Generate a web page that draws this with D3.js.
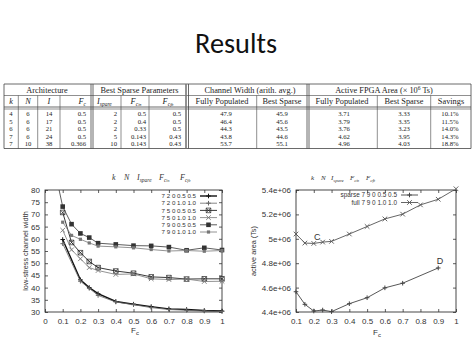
<!DOCTYPE html>
<html><head><meta charset="utf-8">
<script src="https://cdn.jsdelivr.net/npm/d3@7"></script>
<style>html,body{margin:0;padding:0;background:#fff}svg{display:block}</style>
</head><body>
<script>
// ---------- DATA ----------
const title = "Results";
// table
const archK = [4,5,6,7,7];
const archN = [6,6,6,6,10];
const archI = [14,17,21,24,38];
const archFc = ["0.5","0.5","0.5","0.5","0.366"];
const spareI = [2,2,2,5,10];
const spareFcin = ["0.5","0.4","0.33","0.143","0.143"];
const spareFcfb = ["0.5","0.5","0.5","0.43","0.43"];
const chanFull = ["47.9","46.4","44.3","43.8","53.7"];
const chanSparse = ["45.9","45.6","43.5","44.6","55.1"];
const areaFull = ["3.71","3.79","3.76","4.62","4.96"];
const areaSparse = ["3.33","3.35","3.23","3.95","4.03"];
const savings = ["10.1%","11.5%","14.0%","14.3%","18.8%"];

// left chart: low-stress channel width vs Fc
const leftNames = ["7 2 0 0.5 0.5","7 2 0 1.0 1.0","7 5 0 0.5 0.5","7 5 0 1.0 1.0","7 9 0 0.5 0.5","7 9 0 1.0 1.0"];
const fcA = [0.1,0.2,0.25,0.3,0.4,0.5,0.6,0.7,0.8,0.9,1.0];
const fcB = [0.1,0.15,0.2,0.25,0.3,0.4,0.5,0.6,0.7,0.8,0.9,1.0];
const fcC = [0.05,0.1,0.15,0.2,0.25,0.3,0.4,0.5,0.6,0.7,0.8,0.9,1.0];
const w7200505 = [59.7,43.2,40.0,37.5,34.3,33.2,32.2,31.3,31.0,30.6,30.4];
const w7201010 = [58.0,42.6,39.7,36.8,34.1,33.0,31.8,31.0,30.7,30.4,30.2];
const w7500505 = [70.8,58.5,54.3,50.7,48.2,46.8,45.9,44.4,44.1,43.5,43.6,43.6];
const w7501010 = [63.5,55.5,51.8,48.2,47.0,45.4,45.6,43.6,43.3,43.5,42.5,42.6];
const w7900505 = [90.0,73.2,66.0,62.2,60.5,58.2,57.7,57.2,57.1,56.6,55.3,56.3,55.4];
const w7901010 = [66.8,61.4,59.8,58.3,57.0,56.7,56.3,55.6,55.0,55.2,54.9,55.2];
const leftXTicks = [0,0.1,0.2,0.3,0.4,0.5,0.6,0.7,0.8,0.9,1];
const leftYTicks = [30,35,40,45,50,55,60,65,70,75,80];

// right chart: active area vs Fc
const rightNames = ["sparse 7 9 0 0.5 0.5","full 7 9 0 1.0 1.0"];
const fcSparse = [0.1,0.15,0.2,0.25,0.3,0.4,0.5,0.6,0.7,0.9];
const areaSparseCurve = [4.566e6,4.463e6,4.408e6,4.416e6,4.403e6,4.468e6,4.517e6,4.598e6,4.636e6,4.761e6];
const fcFull = [0.1,0.15,0.2,0.25,0.3,0.4,0.5,0.6,0.7,0.8,0.9,1.0];
const areaFullCurve = [5.039e6,4.965e6,4.962e6,4.973e6,4.979e6,5.039e6,5.101e6,5.163e6,5.202e6,5.278e6,5.324e6,5.41e6];
const rightXTicks = [0.1,0.2,0.3,0.4,0.5,0.6,0.7,0.8,0.9,1];
const rightYTicks = [4.4e6,4.6e6,4.8e6,5.0e6,5.2e6,5.4e6];
const rightYTickLabels = ["4.4e+06","4.6e+06","4.8e+06","5e+06","5.2e+06","5.4e+06"];
const annotations = [{t:"C", x:0.22, y:4.99e6},{t:"D", x:0.91, y:4.79e6}];

// ---------- DRAW ----------
const W=474,H=355;
const svg = d3.select("body").append("svg").attr("width",W).attr("height",H);
svg.append("rect").attr("width",W).attr("height",H).attr("fill","#fff");

svg.append("text").text(title).attr("x",236).attr("y",53).attr("text-anchor","middle")
  .attr("font-family","Carlito, 'Open Sans', Lato, sans-serif").attr("font-size",28).attr("fill","#111")
  .attr("textLength",82).attr("lengthAdjust","spacingAndGlyphs");

// ---- table ----
const T = svg.append("g").attr("font-family","'Liberation Serif','DejaVu Serif',serif").attr("font-size",8.3).attr("fill","#222");
const lc="#444";
function hl(x1,x2,y,w){T.append("line").attr("x1",x1).attr("x2",x2).attr("y1",y).attr("y2",y).attr("stroke",lc).attr("stroke-width",w||0.8);}
function vl(x,y1,y2,w,c){T.append("line").attr("x1",x).attr("x2",x).attr("y1",y1).attr("y2",y2).attr("stroke",c||lc).attr("stroke-width",w||0.8);}
const tTop=84,tH1=95.5,tH2a=107,tH2b=109,tBot=148.5,tL=4,tR=471;
hl(tL,tR,tTop); hl(tL,tR,tH1,0.6); hl(tL,tR,tH2a); hl(tL,tR,tH2b,0.6); hl(tL,tR,tBot);
vl(tL,tTop,tBot); vl(tR,tTop,tBot);
[91,93,307,309].forEach(x=>vl(x,tTop,tBot));
vl(186,tTop,tBot,1.6,"#777"); vl(188.5,tTop,tBot,0.8);
[18.3,37.7,60,121,149,256.7,377.3,430.7].forEach(x=>vl(x,tH1,tBot,0.6));

function txt(s,x,y,anchor,italic,fs){return T.append("text").text(s).attr("x",x).attr("y",y).attr("text-anchor",anchor||"middle").attr("font-style",italic?"italic":null).attr("font-size",fs||null);}
function sub(g,main,subs,x,y,anchor){
  const t=T.append("text").attr("x",x).attr("y",y).attr("text-anchor",anchor||"middle").attr("font-style","italic");
  t.append("tspan").text(main);
  t.append("tspan").text(subs).attr("font-size",5.5).attr("dy",1.5);
  return t;
}
txt("Architecture",47,92.5); txt("Best Sparse Parameters",139.5,92.5);
txt("Channel Width (arith. avg.)",250,92.5);
const at = T.append("text").attr("x",384).attr("y",92.5).attr("text-anchor","middle");
at.append("tspan").text("Active FPGA Area (× 10");
at.append("tspan").text("6").attr("font-size",5.5).attr("dy",-3);
at.append("tspan").text(" Ts)").attr("dy",3);
txt("k",11,104,"middle",true); txt("N",28,104,"middle",true); txt("I",49,104,"middle",true);
sub(T,"F","c",86,104,"end");
sub(T,"I","spare",97,104,"start"); sub(T,"F","c",136,104,"middle").append("tspan").text("in").attr("font-size",4.2).attr("dy",0.8);
sub(T,"F","c",168,104,"middle").append("tspan").text("fb").attr("font-size",4.2).attr("dy",0.8);
txt("Fully Populated",222,104); txt("Best Sparse",282,104);
txt("Fully Populated",342,104); txt("Best Sparse",404,104); txt("Savings",451,104);
const rowY=[116.3,123.8,131.3,138.8,146.2];
const fsRow=6.7;
rowY.forEach((y,i)=>{
  txt(archK[i],11,y,null,false,fsRow); txt(archN[i],28,y,null,false,fsRow); txt(archI[i],49,y,null,false,fsRow); txt(archFc[i],86,y,"end",false,fsRow);
  txt(spareI[i],117,y,"end",false,fsRow); txt(spareFcin[i],146,y,"end",false,fsRow); txt(spareFcfb[i],181,y,"end",false,fsRow);
  txt(chanFull[i],226,y,null,false,fsRow); txt(chanSparse[i],282,y,null,false,fsRow);
  txt(areaFull[i],344,y,null,false,fsRow); txt(areaSparse[i],404,y,null,false,fsRow); txt(savings[i],450,y,null,false,fsRow);
});

// italic caption labels above charts
function caption(xs,y,fs){
  const g=svg.append("g").attr("font-family","'Liberation Serif',serif").attr("font-size",fs).attr("font-style","italic").attr("fill","#333");
  g.append("text").text("k").attr("x",xs[0]).attr("y",y);
  g.append("text").text("N").attr("x",xs[1]).attr("y",y);
  let t=g.append("text").attr("x",xs[2]).attr("y",y); t.append("tspan").text("I"); t.append("tspan").text("spare").attr("font-size",fs*0.68).attr("dy",1.6);
  t=g.append("text").attr("x",xs[3]).attr("y",y); t.append("tspan").text("F"); t.append("tspan").text("c").attr("font-size",fs*0.68).attr("dy",1.6); t.append("tspan").text("in").attr("font-size",fs*0.5).attr("dy",0.8);
  t=g.append("text").attr("x",xs[4]).attr("y",y); t.append("tspan").text("F"); t.append("tspan").text("c").attr("font-size",fs*0.68).attr("dy",1.6); t.append("tspan").text("fb").attr("font-size",fs*0.5).attr("dy",0.8);
}
caption([112,124,137,159,180],180,8);
caption([311,321,331,350,366],180,7);

// marker shapes
function marker(g,type,x,y,color){
  const s=2.3;
  if(type==="plus") g.append("path").attr("d",`M${x-s},${y}H${x+s}M${x},${y-s}V${y+s}`).attr("stroke",color).attr("stroke-width",1).attr("fill","none");
  else if(type==="cross") g.append("path").attr("d",`M${x-s},${y-s}L${x+s},${y+s}M${x-s},${y+s}L${x+s},${y-s}`).attr("stroke",color).attr("stroke-width",0.9).attr("fill","none");
  else if(type==="boxcross") g.append("path").attr("d",`M${x-s},${y-s}L${x+s},${y+s}M${x-s},${y+s}L${x+s},${y-s}M${x-s},${y-s}H${x+s}V${y+s}H${x-s}Z`).attr("stroke",color).attr("stroke-width",0.7).attr("fill","none");
  else if(type==="square") g.append("rect").attr("x",x-s).attr("y",y-s).attr("width",2*s).attr("height",2*s).attr("fill",color);
  else if(type==="smallsquare") g.append("rect").attr("x",x-1.6).attr("y",y-1.6).attr("width",3.2).attr("height",3.2).attr("fill",color);
}

const fontSans="'Liberation Sans',Arial,sans-serif";
function frameAxes(g,x,y,xt,yt,ytl,x0,x1,y0,y1){
  g.append("rect").attr("x",x0).attr("y",y1).attr("width",x1-x0).attr("height",y0-y1).attr("fill","none").attr("stroke","#333").attr("stroke-width",0.9);
  const ax=g.append("g").attr("transform",`translate(0,${y0})`).call(d3.axisBottom(x).tickValues(xt).tickSize(-3).tickPadding(6).tickFormat(d3.format("")));
  const axT=g.append("g").attr("transform",`translate(0,${y1})`).call(d3.axisTop(x).tickValues(xt).tickSize(-3).tickFormat(""));
  const ay=g.append("g").attr("transform",`translate(${x0},0)`).call(d3.axisLeft(y).tickValues(yt).tickSize(-3).tickPadding(5).tickFormat((d,i)=>ytl?ytl[i]:d));
  const ayR=g.append("g").attr("transform",`translate(${x1},0)`).call(d3.axisRight(y).tickValues(yt).tickSize(-3).tickFormat(""));
  [ax,axT,ay,ayR].forEach(a=>{a.select(".domain").remove(); a.selectAll("line").attr("stroke","#333").attr("stroke-width",0.8);
    a.selectAll("text").attr("font-family",fontSans).attr("font-size",8).attr("fill","#333");});
}

// ---- left chart ----
const xL=d3.scaleLinear([0,1],[45,222]), yL=d3.scaleLinear([30,80],[312,190]);
const GL=svg.append("g");
GL.append("clipPath").attr("id","clipL").append("rect").attr("x",45).attr("y",190).attr("width",177).attr("height",122);
frameAxes(GL,xL,yL,leftXTicks,leftYTicks,null,45,222,312,190);
const leftSeries=[
  {name:leftNames[0],xs:fcA,ys:w7200505,color:"#111",w:1.4,m:"plus"},
  {name:leftNames[1],xs:fcA,ys:w7201010,color:"#666",w:0.8,m:"plus"},
  {name:leftNames[2],xs:fcB,ys:w7500505,color:"#222",w:0.9,m:"boxcross"},
  {name:leftNames[3],xs:fcB,ys:w7501010,color:"#777",w:0.8,m:"cross"},
  {name:leftNames[4],xs:fcC,ys:w7900505,color:"#333",w:0.8,m:"square"},
  {name:leftNames[5],xs:fcB,ys:w7901010,color:"#777",w:0.8,m:"smallsquare"}
];
const lineL=d3.line().x(d=>xL(d[0])).y(d=>yL(d[1]));
leftSeries.forEach((s,si)=>{
  const pts=s.xs.map((x,i)=>[x,s.ys[i]]);
  GL.append("path").attr("d",lineL(pts)).attr("fill","none").attr("stroke",s.color).attr("stroke-width",s.w).attr("clip-path","url(#clipL)");
  const mg=GL.append("g");
  pts.filter(p=>p[1]<=80).forEach(p=>marker(mg,s.m,xL(p[0]),yL(p[1]),s.color));
  const ly=196+si*7.2;
  GL.append("text").text(s.name).attr("x",196).attr("y",ly+2.2).attr("text-anchor","end").attr("font-family",fontSans).attr("font-size",6.2).attr("fill","#333");
  GL.append("line").attr("x1",200).attr("x2",217).attr("y1",ly).attr("y2",ly).attr("stroke",s.color).attr("stroke-width",s.w);
  marker(GL,s.m,208.5,ly,s.color);
});
GL.append("text").attr("transform","translate(28,251) rotate(-90)").text("low-stress channel width").attr("text-anchor","middle").attr("font-family",fontSans).attr("font-size",7.3).attr("fill","#333");
let fl=GL.append("text").attr("x",131).attr("y",333).attr("font-family",fontSans).attr("font-size",8).attr("fill","#333");
fl.append("tspan").text("F"); fl.append("tspan").text("c").attr("font-size",6).attr("dy",2);

// ---- right chart ----
const xR=d3.scaleLinear([0.1,1],[296,456]), yR=d3.scaleLinear([4.4e6,5.4e6],[312,190]);
const GR=svg.append("g");
GR.append("clipPath").attr("id","clipR").append("rect").attr("x",296).attr("y",190).attr("width",160).attr("height",122);
frameAxes(GR,xR,yR,rightXTicks,rightYTicks,rightYTickLabels,296,456,312,190);
const rightSeries=[
  {name:rightNames[0],xs:fcSparse,ys:areaSparseCurve,color:"#444",m:"plus"},
  {name:rightNames[1],xs:fcFull,ys:areaFullCurve,color:"#555",m:"cross"}
];
const lineR=d3.line().x(d=>xR(d[0])).y(d=>yR(d[1]));
rightSeries.forEach((s,si)=>{
  const pts=s.xs.map((x,i)=>[x,s.ys[i]]);
  GR.append("path").attr("d",lineR(pts)).attr("fill","none").attr("stroke",s.color).attr("stroke-width",0.9).attr("clip-path","url(#clipR)");
  pts.forEach(p=>marker(GR,s.m,xR(p[0]),yR(p[1]),s.color));
  const ly=195+si*7.5;
  GR.append("text").text(s.name).attr("x",397).attr("y",ly+2.2).attr("text-anchor","end").attr("font-family",fontSans).attr("font-size",6.4).attr("fill","#333");
  GR.append("line").attr("x1",401).attr("x2",418).attr("y1",ly).attr("y2",ly).attr("stroke",s.color).attr("stroke-width",0.9);
  marker(GR,s.m,409.5,ly,s.color);
});
annotations.forEach(a=>GR.append("text").text(a.t).attr("x",xR(a.x)).attr("y",yR(a.y)).attr("font-family",fontSans).attr("font-size",9).attr("fill","#333").attr("text-anchor","middle"));
GR.append("text").attr("transform","translate(256,251) rotate(-90)").text("active area (Ts)").attr("text-anchor","middle").attr("font-family",fontSans).attr("font-size",7.3).attr("fill","#333");
fl=GR.append("text").attr("x",373).attr("y",335).attr("font-family",fontSans).attr("font-size",8).attr("fill","#333");
fl.append("tspan").text("F"); fl.append("tspan").text("c").attr("font-size",6).attr("dy",2);
</script>
</body></html>
